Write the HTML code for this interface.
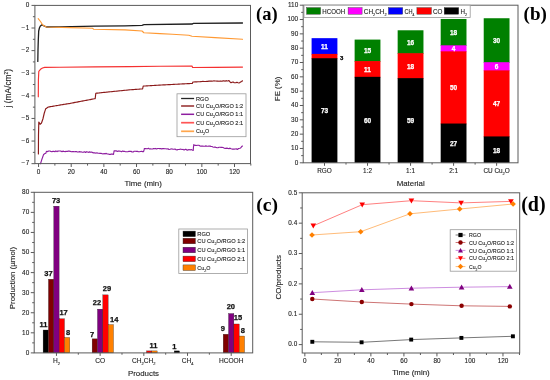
<!DOCTYPE html>
<html><head><meta charset="utf-8"><title>Figure</title>
<style>
html,body{margin:0;padding:0;background:#fff;}
body{width:550px;height:380px;overflow:hidden;}
svg{display:block;filter:blur(0.3px);}
text.n{stroke:#2a2a2a;stroke-width:0.12px;}
</style></head>
<body>
<svg width="550" height="380" viewBox="0 0 550 380">
<rect width="550" height="380" fill="#fff"/>
<polyline points="37.80,61.40 38.00,50.00 38.30,40.00 38.70,31.00 39.40,28.00 40.20,26.20 41.80,24.80 43.50,25.60 46.40,27.00 60.00,26.80 95.00,26.20 125.00,25.80 142.00,25.30 144.00,24.70 192.40,24.00 193.20,23.40 242.50,23.00" fill="none" stroke="#1e1e1e" stroke-width="1.3" stroke-linejoin="round" stroke-linecap="round" />
<polyline points="38.20,18.60 40.50,21.50 42.70,25.00 46.40,27.00 70.00,27.60 92.70,28.30 93.50,29.20 125.00,29.90 142.00,31.00 143.90,32.70 160.00,33.60 172.30,34.30 188.80,35.20 192.00,36.30 215.00,37.60 242.50,39.30" fill="none" stroke="#ff9933" stroke-width="1.15" stroke-linejoin="round" stroke-linecap="round" />
<polyline points="38.30,96.80 38.40,80.00 38.80,71.40 40.50,69.30 42.50,68.00 44.70,67.40 60.00,67.30 95.00,66.90 130.00,66.60 160.00,66.30 192.00,66.00 192.60,67.50 215.00,67.40 242.50,67.10" fill="none" stroke="#f53030" stroke-width="1.15" stroke-linejoin="round" stroke-linecap="round" />
<polyline points="38.40,154.00 38.41,153.00 38.41,152.00 38.42,151.00 38.42,150.00 38.43,149.00 38.43,148.00 38.44,147.00 38.44,146.00 38.45,145.00 38.45,144.00 38.46,143.00 38.46,142.00 38.47,141.00 38.47,140.00 38.48,139.00 38.48,138.00 38.49,137.00 38.49,136.00 38.50,135.00 38.52,134.00 38.55,133.00 38.57,132.00 38.59,131.00 38.62,130.00 38.64,129.00 38.66,128.00 38.68,127.00 38.71,126.00 38.73,125.00 38.75,124.00 38.78,123.00 38.80,122.00 39.45,123.15 40.10,124.30 41.50,123.00 41.85,122.00 42.20,121.00 42.55,120.00 42.90,119.00 43.13,118.00 43.37,117.00 43.60,116.00 43.83,115.00 44.07,114.00 44.30,113.00 44.65,111.95 45.00,110.90 45.35,109.85 45.70,108.80 46.60,108.20 47.50,107.60 48.40,107.00 49.43,106.83 50.46,106.66 51.49,106.49 52.51,106.31 53.54,106.14 54.57,105.97 55.60,105.80 56.63,105.63 57.66,105.46 58.69,105.29 59.71,105.11 60.74,104.94 61.77,104.77 62.80,104.60 63.83,104.43 64.86,104.26 65.89,104.09 66.91,103.91 67.94,103.74 68.97,103.57 70.00,103.40 71.01,103.21 72.02,103.02 73.02,102.82 74.03,102.63 75.04,102.44 76.05,102.25 77.06,102.06 78.06,101.86 79.07,101.67 80.08,101.48 81.09,101.29 82.10,101.10 83.10,100.90 84.11,100.71 85.12,100.52 86.13,100.33 87.14,100.14 88.14,99.94 89.15,99.75 90.16,99.56 91.17,99.37 92.18,99.18 93.18,98.98 94.19,98.79 95.20,98.60 95.32,97.54 95.44,96.48 95.56,95.42 95.68,94.36 95.80,93.30 96.81,93.19 97.83,93.09 98.84,92.98 99.86,92.87 100.87,92.76 101.89,92.66 102.90,92.55 103.91,92.44 104.93,92.34 105.94,92.23 106.96,92.12 107.97,92.01 108.99,91.91 110.00,91.80 111.00,91.70 112.00,91.60 113.00,91.50 114.00,91.40 115.00,91.30 116.00,91.20 117.00,91.10 118.00,91.00 119.00,90.90 120.00,90.80 121.00,90.70 122.00,90.60 123.00,90.50 124.00,90.40 125.00,90.30 126.00,90.20 127.00,90.10 128.00,90.00 129.00,89.90 130.00,89.80 131.05,89.72 132.10,89.65 133.15,89.58 134.20,89.50 135.25,89.42 136.30,89.35 137.35,89.28 138.40,89.20 139.45,89.12 140.50,89.05 141.55,88.98 142.60,88.90 142.90,87.50 143.20,86.10 144.25,86.04 145.30,85.97 146.35,85.91 147.40,85.85 148.45,85.79 149.50,85.72 150.55,85.66 151.60,85.60 152.65,85.54 153.70,85.47 154.75,85.41 155.80,85.35 156.85,85.29 157.90,85.22 158.95,85.16 160.00,85.10 161.01,85.05 162.02,84.99 163.03,84.94 164.04,84.89 165.05,84.83 166.06,84.78 167.07,84.73 168.07,84.67 169.08,84.62 170.09,84.57 171.10,84.52 172.11,84.46 173.12,84.41 174.13,84.36 175.14,84.30 176.15,84.25 177.16,84.20 178.17,84.14 179.18,84.09 180.19,84.04 181.20,83.98 182.21,83.93 183.22,83.88 184.23,83.83 185.23,83.77 186.24,83.72 187.25,83.67 188.26,83.61 189.27,83.56 190.28,83.51 191.29,83.45 192.30,83.40 192.90,82.00 193.91,81.96 194.91,81.92 195.92,81.88 196.92,81.84 197.93,81.79 198.94,81.75 199.94,81.71 200.95,81.56 201.95,81.54 202.96,81.29 203.96,81.48 204.97,81.49 205.98,81.47 206.98,81.24 207.99,81.39 208.99,81.04 210.00,81.16 211.00,81.03 212.00,81.19 213.00,80.95 214.00,80.91 215.00,81.05 216.00,80.98 217.00,81.17 218.00,81.11 219.00,81.21 220.00,81.13 221.00,81.14 222.00,81.21 223.00,80.89 224.00,80.83 225.00,81.20 226.00,80.67 227.00,80.99 228.00,80.91 229.00,80.53 230.00,81.85 231.00,82.74 232.00,82.23 233.00,81.94 234.00,82.59 235.00,82.78 236.00,82.66 237.00,82.30 238.00,82.75 239.00,82.98 239.88,82.50 240.75,81.85 241.62,81.54 242.50,80.80" fill="none" stroke="#8b1a1a" stroke-width="1.15" stroke-linejoin="round" stroke-linecap="round" />
<polyline points="40.50,163.70 40.88,162.52 41.25,161.35 41.62,160.18 42.00,159.00 42.40,157.88 42.80,156.75 43.20,155.62 43.60,154.50 45.00,153.60 45.80,153.20 46.25,151.88 46.70,151.23 47.72,151.59 48.75,150.96 49.77,151.05 50.79,151.41 51.82,151.70 52.84,151.37 53.86,151.21 54.88,151.73 55.91,150.89 56.93,151.62 57.95,151.11 58.98,150.98 60.00,150.96 61.02,151.16 62.04,151.64 63.06,151.10 64.09,151.49 65.11,151.57 66.13,151.36 67.15,151.54 68.17,151.14 69.19,151.16 70.21,151.32 71.24,151.78 72.26,151.58 73.28,151.50 74.30,151.78 75.32,151.69 76.34,151.58 77.36,152.05 78.39,151.99 79.41,151.61 80.43,151.94 81.45,151.92 82.47,152.27 83.49,152.16 84.51,151.79 85.54,152.45 86.56,151.70 87.58,152.00 88.60,152.33 89.64,151.90 90.67,152.31 91.71,152.01 92.75,152.69 93.78,152.88 94.82,152.82 95.85,153.20 96.89,152.81 97.93,153.26 98.96,153.28 100.00,153.37 101.04,153.34 102.08,153.76 103.12,153.93 104.15,153.58 105.19,153.83 106.23,153.37 107.27,154.02 108.31,154.05 109.35,154.44 110.38,154.36 111.42,153.95 112.46,154.12 113.50,154.45 113.70,152.84 113.90,152.20 114.10,150.90 115.16,150.88 116.22,150.84 117.28,151.50 118.34,150.95 119.40,151.07 120.46,151.22 121.52,151.67 122.58,150.98 123.64,151.33 124.70,151.44 125.76,151.77 126.82,151.73 127.88,151.79 128.94,151.28 130.00,151.42 131.05,151.39 132.09,151.88 133.14,151.96 134.18,151.25 135.23,151.29 136.28,151.35 137.32,151.37 138.37,151.61 139.42,151.72 140.46,151.44 141.51,151.22 142.55,151.61 143.60,151.58 143.83,150.69 144.07,149.97 144.30,148.67 145.33,148.54 146.36,148.66 147.38,148.74 148.41,148.21 149.44,149.00 150.47,148.92 151.50,149.03 152.52,148.99 153.55,148.66 154.58,148.69 155.61,148.45 156.64,148.96 157.66,148.47 158.69,148.50 159.72,148.66 160.75,148.64 161.78,148.83 162.80,148.60 163.83,148.58 164.86,148.75 165.89,148.73 166.92,148.99 167.94,148.72 168.97,149.51 170.00,149.30 171.01,148.92 172.02,149.05 173.03,149.17 174.03,149.22 175.04,149.03 176.05,149.72 177.06,149.89 178.07,149.45 179.08,149.50 180.09,149.18 181.10,149.22 182.10,149.48 183.11,149.44 184.12,149.98 185.13,149.42 186.14,149.33 187.15,150.20 188.16,149.85 189.17,149.54 190.17,149.93 191.18,149.50 192.19,149.99 193.20,150.43 193.30,149.33 193.40,148.18 193.50,146.79 193.60,145.88 193.70,144.70 194.71,145.34 195.73,145.22 196.74,145.54 197.76,145.23 198.77,145.23 199.79,145.85 200.80,146.10 201.81,146.08 202.83,146.13 203.84,146.24 204.86,146.26 205.87,145.90 206.89,146.25 207.90,146.20 208.91,146.00 209.93,146.10 210.94,146.42 211.96,146.50 212.97,146.98 213.99,147.32 215.00,146.95 216.00,147.49 217.00,147.64 218.00,147.71 219.00,147.28 220.00,147.25 221.00,147.35 222.00,147.43 223.00,147.53 224.00,148.01 225.00,148.36 226.00,148.41 227.00,148.18 228.00,148.44 229.00,148.67 230.00,148.13 231.04,148.74 232.09,149.07 233.13,149.05 234.17,149.13 235.21,148.98 236.26,148.81 237.30,149.46 238.65,148.45 240.00,148.27 240.83,147.76 241.67,146.57 242.50,146.00" fill="none" stroke="#8e1ea0" stroke-width="1.15" stroke-linejoin="round" stroke-linecap="round" />
<rect x="34.90" y="5.40" width="215.60" height="158.20" fill="none" stroke="#5a5a5a" stroke-width="1.0"/>
<line x1="31.50" y1="5.40" x2="34.90" y2="5.40" stroke="#5a5a5a" stroke-width="1.0" />
<text class="n" x="29.40" y="7.20" font-size="6.4" text-anchor="end" fill="#222" font-family='"Liberation Sans", sans-serif' font-weight="normal" >0</text>
<line x1="31.50" y1="28.01" x2="34.90" y2="28.01" stroke="#5a5a5a" stroke-width="1.0" />
<text class="n" x="29.40" y="29.81" font-size="6.4" text-anchor="end" fill="#222" font-family='"Liberation Sans", sans-serif' font-weight="normal" >&#8722;<tspan dx="0.7">1</tspan></text>
<line x1="31.50" y1="50.62" x2="34.90" y2="50.62" stroke="#5a5a5a" stroke-width="1.0" />
<text class="n" x="29.40" y="52.42" font-size="6.4" text-anchor="end" fill="#222" font-family='"Liberation Sans", sans-serif' font-weight="normal" >&#8722;<tspan dx="0.7">2</tspan></text>
<line x1="31.50" y1="73.23" x2="34.90" y2="73.23" stroke="#5a5a5a" stroke-width="1.0" />
<text class="n" x="29.40" y="75.03" font-size="6.4" text-anchor="end" fill="#222" font-family='"Liberation Sans", sans-serif' font-weight="normal" >&#8722;<tspan dx="0.7">3</tspan></text>
<line x1="31.50" y1="95.84" x2="34.90" y2="95.84" stroke="#5a5a5a" stroke-width="1.0" />
<text class="n" x="29.40" y="97.64" font-size="6.4" text-anchor="end" fill="#222" font-family='"Liberation Sans", sans-serif' font-weight="normal" >&#8722;<tspan dx="0.7">4</tspan></text>
<line x1="31.50" y1="118.45" x2="34.90" y2="118.45" stroke="#5a5a5a" stroke-width="1.0" />
<text class="n" x="29.40" y="120.25" font-size="6.4" text-anchor="end" fill="#222" font-family='"Liberation Sans", sans-serif' font-weight="normal" >&#8722;<tspan dx="0.7">5</tspan></text>
<line x1="31.50" y1="141.06" x2="34.90" y2="141.06" stroke="#5a5a5a" stroke-width="1.0" />
<text class="n" x="29.40" y="142.86" font-size="6.4" text-anchor="end" fill="#222" font-family='"Liberation Sans", sans-serif' font-weight="normal" >&#8722;<tspan dx="0.7">6</tspan></text>
<line x1="31.50" y1="163.67" x2="34.90" y2="163.67" stroke="#5a5a5a" stroke-width="1.0" />
<text class="n" x="29.40" y="165.47" font-size="6.4" text-anchor="end" fill="#222" font-family='"Liberation Sans", sans-serif' font-weight="normal" >&#8722;<tspan dx="0.7">7</tspan></text>
<line x1="32.90" y1="16.70" x2="34.90" y2="16.70" stroke="#5a5a5a" stroke-width="1.0" />
<line x1="32.90" y1="39.31" x2="34.90" y2="39.31" stroke="#5a5a5a" stroke-width="1.0" />
<line x1="32.90" y1="61.92" x2="34.90" y2="61.92" stroke="#5a5a5a" stroke-width="1.0" />
<line x1="32.90" y1="84.53" x2="34.90" y2="84.53" stroke="#5a5a5a" stroke-width="1.0" />
<line x1="32.90" y1="107.15" x2="34.90" y2="107.15" stroke="#5a5a5a" stroke-width="1.0" />
<line x1="32.90" y1="129.75" x2="34.90" y2="129.75" stroke="#5a5a5a" stroke-width="1.0" />
<line x1="32.90" y1="152.37" x2="34.90" y2="152.37" stroke="#5a5a5a" stroke-width="1.0" />
<line x1="38.55" y1="163.60" x2="38.55" y2="167.00" stroke="#5a5a5a" stroke-width="1.0" />
<text class="n" x="38.55" y="173.60" font-size="6.4" text-anchor="middle" fill="#222" font-family='"Liberation Sans", sans-serif' font-weight="normal" >0</text>
<line x1="71.21" y1="163.60" x2="71.21" y2="167.00" stroke="#5a5a5a" stroke-width="1.0" />
<text class="n" x="71.21" y="173.60" font-size="6.4" text-anchor="middle" fill="#222" font-family='"Liberation Sans", sans-serif' font-weight="normal" >20</text>
<line x1="103.87" y1="163.60" x2="103.87" y2="167.00" stroke="#5a5a5a" stroke-width="1.0" />
<text class="n" x="103.87" y="173.60" font-size="6.4" text-anchor="middle" fill="#222" font-family='"Liberation Sans", sans-serif' font-weight="normal" >40</text>
<line x1="136.53" y1="163.60" x2="136.53" y2="167.00" stroke="#5a5a5a" stroke-width="1.0" />
<text class="n" x="136.53" y="173.60" font-size="6.4" text-anchor="middle" fill="#222" font-family='"Liberation Sans", sans-serif' font-weight="normal" >60</text>
<line x1="169.19" y1="163.60" x2="169.19" y2="167.00" stroke="#5a5a5a" stroke-width="1.0" />
<text class="n" x="169.19" y="173.60" font-size="6.4" text-anchor="middle" fill="#222" font-family='"Liberation Sans", sans-serif' font-weight="normal" >80</text>
<line x1="201.85" y1="163.60" x2="201.85" y2="167.00" stroke="#5a5a5a" stroke-width="1.0" />
<text class="n" x="201.85" y="173.60" font-size="6.4" text-anchor="middle" fill="#222" font-family='"Liberation Sans", sans-serif' font-weight="normal" >100</text>
<line x1="234.51" y1="163.60" x2="234.51" y2="167.00" stroke="#5a5a5a" stroke-width="1.0" />
<text class="n" x="234.51" y="173.60" font-size="6.4" text-anchor="middle" fill="#222" font-family='"Liberation Sans", sans-serif' font-weight="normal" >120</text>
<line x1="54.88" y1="163.60" x2="54.88" y2="165.60" stroke="#5a5a5a" stroke-width="1.0" />
<line x1="87.54" y1="163.60" x2="87.54" y2="165.60" stroke="#5a5a5a" stroke-width="1.0" />
<line x1="120.20" y1="163.60" x2="120.20" y2="165.60" stroke="#5a5a5a" stroke-width="1.0" />
<line x1="152.86" y1="163.60" x2="152.86" y2="165.60" stroke="#5a5a5a" stroke-width="1.0" />
<line x1="185.52" y1="163.60" x2="185.52" y2="165.60" stroke="#5a5a5a" stroke-width="1.0" />
<line x1="218.18" y1="163.60" x2="218.18" y2="165.60" stroke="#5a5a5a" stroke-width="1.0" />
<line x1="250.84" y1="163.60" x2="250.84" y2="165.60" stroke="#5a5a5a" stroke-width="1.0" />
<text class="n" x="143.20" y="186.40" font-size="7.9" text-anchor="middle" fill="#222" font-family='"Liberation Sans", sans-serif' font-weight="normal" >Time (min)</text>
<text class="n" x="0.00" y="0.00" font-size="8.4" text-anchor="middle" fill="#222" font-family='"Liberation Sans", sans-serif' font-weight="normal" transform="translate(10.5,88.2) rotate(-90)">j (mA/cm<tspan font-size="4.8" dy="-2.8">2</tspan><tspan dy="2.8">)</tspan></text>
<rect x="177.00" y="93.80" width="69.00" height="42.90" fill="#fff" stroke="#9a9a9a" stroke-width="0.8" />
<line x1="181.10" y1="98.50" x2="194.10" y2="98.50" stroke="#262626" stroke-width="1.3" />
<text class="n" x="196.10" y="100.50" font-size="5.8" text-anchor="start" fill="#222" font-family='"Liberation Sans", sans-serif' font-weight="normal"  textLength="12.6" lengthAdjust="spacingAndGlyphs">RGO</text>
<line x1="181.10" y1="106.00" x2="194.10" y2="106.00" stroke="#8b1a1a" stroke-width="1.4" />
<text class="n" x="196.10" y="108.00" font-size="5.8" text-anchor="start" fill="#222" font-family='"Liberation Sans", sans-serif' font-weight="normal"  textLength="47.0" lengthAdjust="spacingAndGlyphs">CU Cu<tspan font-size="4.0" dy="2.0">2</tspan><tspan dy="-2.0">O/RGO 1:2</tspan></text>
<line x1="181.10" y1="114.30" x2="194.10" y2="114.30" stroke="#8e1ea0" stroke-width="1.5" />
<text class="n" x="196.10" y="116.30" font-size="5.8" text-anchor="start" fill="#222" font-family='"Liberation Sans", sans-serif' font-weight="normal"  textLength="47.0" lengthAdjust="spacingAndGlyphs">CU Cu<tspan font-size="4.0" dy="2.0">2</tspan><tspan dy="-2.0">O/RGO 1:1</tspan></text>
<line x1="181.10" y1="122.70" x2="194.10" y2="122.70" stroke="#ff5555" stroke-width="1.7" />
<text class="n" x="196.10" y="124.70" font-size="5.8" text-anchor="start" fill="#222" font-family='"Liberation Sans", sans-serif' font-weight="normal"  textLength="47.0" lengthAdjust="spacingAndGlyphs">CU Cu<tspan font-size="4.0" dy="2.0">2</tspan><tspan dy="-2.0">O/RGO 2:1</tspan></text>
<line x1="181.10" y1="131.30" x2="194.10" y2="131.30" stroke="#ffa64d" stroke-width="1.7" />
<text class="n" x="196.10" y="133.30" font-size="5.8" text-anchor="start" fill="#222" font-family='"Liberation Sans", sans-serif' font-weight="normal"  textLength="13.2" lengthAdjust="spacingAndGlyphs">Cu<tspan font-size="4.0" dy="2.0">2</tspan><tspan dy="-2.0">O</tspan></text>
<text x="256.00" y="19.50" font-size="18.5" text-anchor="start" fill="#000" font-family='"Liberation Serif", serif' font-weight="bold" >(a)</text>
<rect x="311.60" y="38.16" width="25.80" height="16.46" fill="#0000ff" stroke="none" stroke-width="0" />
<rect x="311.60" y="53.91" width="25.80" height="5.00" fill="#ff0000" stroke="none" stroke-width="0" />
<rect x="311.60" y="58.21" width="25.80" height="104.59" fill="#000000" stroke="none" stroke-width="0" />
<text x="324.50" y="113.41" font-size="6.5" text-anchor="middle" fill="#fff" font-family='"Liberation Sans", sans-serif' font-weight="bold"  stroke="#fff" stroke-width="0.25">73</text>
<text x="324.50" y="48.93" font-size="6.5" text-anchor="middle" fill="#fff" font-family='"Liberation Sans", sans-serif' font-weight="bold"  stroke="#fff" stroke-width="0.25">11</text>
<rect x="354.63" y="39.59" width="25.80" height="22.19" fill="#008000" stroke="none" stroke-width="0" />
<rect x="354.63" y="61.08" width="25.80" height="16.46" fill="#ff0000" stroke="none" stroke-width="0" />
<rect x="354.63" y="76.84" width="25.80" height="85.96" fill="#000000" stroke="none" stroke-width="0" />
<text x="367.53" y="122.72" font-size="6.5" text-anchor="middle" fill="#fff" font-family='"Liberation Sans", sans-serif' font-weight="bold"  stroke="#fff" stroke-width="0.25">60</text>
<text x="367.53" y="71.86" font-size="6.5" text-anchor="middle" fill="#fff" font-family='"Liberation Sans", sans-serif' font-weight="bold"  stroke="#fff" stroke-width="0.25">11</text>
<text x="367.53" y="53.23" font-size="6.5" text-anchor="middle" fill="#fff" font-family='"Liberation Sans", sans-serif' font-weight="bold"  stroke="#fff" stroke-width="0.25">15</text>
<rect x="397.66" y="30.28" width="25.80" height="23.62" fill="#008000" stroke="none" stroke-width="0" />
<rect x="397.66" y="53.20" width="25.80" height="25.63" fill="#ff0000" stroke="none" stroke-width="0" />
<rect x="397.66" y="78.13" width="25.80" height="84.67" fill="#000000" stroke="none" stroke-width="0" />
<text x="410.56" y="123.36" font-size="6.5" text-anchor="middle" fill="#fff" font-family='"Liberation Sans", sans-serif' font-weight="bold"  stroke="#fff" stroke-width="0.25">59</text>
<text x="410.56" y="68.56" font-size="6.5" text-anchor="middle" fill="#fff" font-family='"Liberation Sans", sans-serif' font-weight="bold"  stroke="#fff" stroke-width="0.25">18</text>
<text x="410.56" y="44.64" font-size="6.5" text-anchor="middle" fill="#fff" font-family='"Liberation Sans", sans-serif' font-weight="bold"  stroke="#fff" stroke-width="0.25">16</text>
<rect x="440.69" y="18.96" width="25.80" height="27.06" fill="#008000" stroke="none" stroke-width="0" />
<rect x="440.69" y="45.32" width="25.80" height="6.72" fill="#ff00ff" stroke="none" stroke-width="0" />
<rect x="440.69" y="51.34" width="25.80" height="72.91" fill="#ff0000" stroke="none" stroke-width="0" />
<rect x="440.69" y="123.54" width="25.80" height="39.26" fill="#000000" stroke="none" stroke-width="0" />
<text x="453.59" y="146.07" font-size="6.5" text-anchor="middle" fill="#fff" font-family='"Liberation Sans", sans-serif' font-weight="bold"  stroke="#fff" stroke-width="0.25">27</text>
<text x="453.59" y="90.34" font-size="6.5" text-anchor="middle" fill="#fff" font-family='"Liberation Sans", sans-serif' font-weight="bold"  stroke="#fff" stroke-width="0.25">50</text>
<text x="453.59" y="51.23" font-size="6.5" text-anchor="middle" fill="#fff" font-family='"Liberation Sans", sans-serif' font-weight="bold"  stroke="#fff" stroke-width="0.25">4</text>
<text x="453.59" y="35.04" font-size="6.5" text-anchor="middle" fill="#fff" font-family='"Liberation Sans", sans-serif' font-weight="bold"  stroke="#fff" stroke-width="0.25">18</text>
<rect x="483.72" y="18.24" width="25.80" height="44.68" fill="#008000" stroke="none" stroke-width="0" />
<rect x="483.72" y="62.22" width="25.80" height="8.87" fill="#ff00ff" stroke="none" stroke-width="0" />
<rect x="483.72" y="70.39" width="25.80" height="66.75" fill="#ff0000" stroke="none" stroke-width="0" />
<rect x="483.72" y="136.44" width="25.80" height="26.36" fill="#000000" stroke="none" stroke-width="0" />
<text x="496.62" y="152.52" font-size="6.5" text-anchor="middle" fill="#fff" font-family='"Liberation Sans", sans-serif' font-weight="bold"  stroke="#fff" stroke-width="0.25">18</text>
<text x="496.62" y="106.31" font-size="6.5" text-anchor="middle" fill="#fff" font-family='"Liberation Sans", sans-serif' font-weight="bold"  stroke="#fff" stroke-width="0.25">47</text>
<text x="496.62" y="69.21" font-size="6.5" text-anchor="middle" fill="#fff" font-family='"Liberation Sans", sans-serif' font-weight="bold"  stroke="#fff" stroke-width="0.25">6</text>
<text x="496.62" y="43.13" font-size="6.5" text-anchor="middle" fill="#fff" font-family='"Liberation Sans", sans-serif' font-weight="bold"  stroke="#fff" stroke-width="0.25">30</text>
<text x="339.90" y="59.60" font-size="6.0" text-anchor="start" fill="#000" font-family='"Liberation Sans", sans-serif' font-weight="bold"  stroke="#000" stroke-width="0.25">3</text>
<rect x="303.20" y="5.20" width="214.80" height="157.60" fill="none" stroke="#5a5a5a" stroke-width="1.0"/>
<line x1="299.80" y1="162.80" x2="303.20" y2="162.80" stroke="#5a5a5a" stroke-width="1.0" />
<text class="n" x="298.20" y="164.70" font-size="6.4" text-anchor="end" fill="#222" font-family='"Liberation Sans", sans-serif' font-weight="normal" >0</text>
<line x1="299.80" y1="148.47" x2="303.20" y2="148.47" stroke="#5a5a5a" stroke-width="1.0" />
<text class="n" x="298.20" y="150.37" font-size="6.4" text-anchor="end" fill="#222" font-family='"Liberation Sans", sans-serif' font-weight="normal" >10</text>
<line x1="299.80" y1="134.15" x2="303.20" y2="134.15" stroke="#5a5a5a" stroke-width="1.0" />
<text class="n" x="298.20" y="136.05" font-size="6.4" text-anchor="end" fill="#222" font-family='"Liberation Sans", sans-serif' font-weight="normal" >20</text>
<line x1="299.80" y1="119.82" x2="303.20" y2="119.82" stroke="#5a5a5a" stroke-width="1.0" />
<text class="n" x="298.20" y="121.72" font-size="6.4" text-anchor="end" fill="#222" font-family='"Liberation Sans", sans-serif' font-weight="normal" >30</text>
<line x1="299.80" y1="105.49" x2="303.20" y2="105.49" stroke="#5a5a5a" stroke-width="1.0" />
<text class="n" x="298.20" y="107.39" font-size="6.4" text-anchor="end" fill="#222" font-family='"Liberation Sans", sans-serif' font-weight="normal" >40</text>
<line x1="299.80" y1="91.17" x2="303.20" y2="91.17" stroke="#5a5a5a" stroke-width="1.0" />
<text class="n" x="298.20" y="93.07" font-size="6.4" text-anchor="end" fill="#222" font-family='"Liberation Sans", sans-serif' font-weight="normal" >50</text>
<line x1="299.80" y1="76.84" x2="303.20" y2="76.84" stroke="#5a5a5a" stroke-width="1.0" />
<text class="n" x="298.20" y="78.74" font-size="6.4" text-anchor="end" fill="#222" font-family='"Liberation Sans", sans-serif' font-weight="normal" >60</text>
<line x1="299.80" y1="62.51" x2="303.20" y2="62.51" stroke="#5a5a5a" stroke-width="1.0" />
<text class="n" x="298.20" y="64.41" font-size="6.4" text-anchor="end" fill="#222" font-family='"Liberation Sans", sans-serif' font-weight="normal" >70</text>
<line x1="299.80" y1="48.18" x2="303.20" y2="48.18" stroke="#5a5a5a" stroke-width="1.0" />
<text class="n" x="298.20" y="50.08" font-size="6.4" text-anchor="end" fill="#222" font-family='"Liberation Sans", sans-serif' font-weight="normal" >80</text>
<line x1="299.80" y1="33.86" x2="303.20" y2="33.86" stroke="#5a5a5a" stroke-width="1.0" />
<text class="n" x="298.20" y="35.76" font-size="6.4" text-anchor="end" fill="#222" font-family='"Liberation Sans", sans-serif' font-weight="normal" >90</text>
<line x1="299.80" y1="19.53" x2="303.20" y2="19.53" stroke="#5a5a5a" stroke-width="1.0" />
<text class="n" x="298.20" y="21.43" font-size="6.4" text-anchor="end" fill="#222" font-family='"Liberation Sans", sans-serif' font-weight="normal" >100</text>
<line x1="299.80" y1="5.20" x2="303.20" y2="5.20" stroke="#5a5a5a" stroke-width="1.0" />
<text class="n" x="298.20" y="7.10" font-size="6.4" text-anchor="end" fill="#222" font-family='"Liberation Sans", sans-serif' font-weight="normal" >110</text>
<line x1="301.20" y1="155.64" x2="303.20" y2="155.64" stroke="#5a5a5a" stroke-width="1.0" />
<line x1="301.20" y1="141.31" x2="303.20" y2="141.31" stroke="#5a5a5a" stroke-width="1.0" />
<line x1="301.20" y1="126.98" x2="303.20" y2="126.98" stroke="#5a5a5a" stroke-width="1.0" />
<line x1="301.20" y1="112.66" x2="303.20" y2="112.66" stroke="#5a5a5a" stroke-width="1.0" />
<line x1="301.20" y1="98.33" x2="303.20" y2="98.33" stroke="#5a5a5a" stroke-width="1.0" />
<line x1="301.20" y1="84.00" x2="303.20" y2="84.00" stroke="#5a5a5a" stroke-width="1.0" />
<line x1="301.20" y1="69.67" x2="303.20" y2="69.67" stroke="#5a5a5a" stroke-width="1.0" />
<line x1="301.20" y1="55.35" x2="303.20" y2="55.35" stroke="#5a5a5a" stroke-width="1.0" />
<line x1="301.20" y1="41.02" x2="303.20" y2="41.02" stroke="#5a5a5a" stroke-width="1.0" />
<line x1="301.20" y1="26.69" x2="303.20" y2="26.69" stroke="#5a5a5a" stroke-width="1.0" />
<line x1="301.20" y1="12.37" x2="303.20" y2="12.37" stroke="#5a5a5a" stroke-width="1.0" />
<line x1="324.50" y1="162.80" x2="324.50" y2="165.80" stroke="#5a5a5a" stroke-width="1.0" />
<text class="n" x="324.50" y="173.10" font-size="6.4" text-anchor="middle" fill="#222" font-family='"Liberation Sans", sans-serif' font-weight="normal" >RGO</text>
<line x1="367.53" y1="162.80" x2="367.53" y2="165.80" stroke="#5a5a5a" stroke-width="1.0" />
<text class="n" x="367.53" y="173.10" font-size="6.4" text-anchor="middle" fill="#222" font-family='"Liberation Sans", sans-serif' font-weight="normal" >1:2</text>
<line x1="410.56" y1="162.80" x2="410.56" y2="165.80" stroke="#5a5a5a" stroke-width="1.0" />
<text class="n" x="410.56" y="173.10" font-size="6.4" text-anchor="middle" fill="#222" font-family='"Liberation Sans", sans-serif' font-weight="normal" >1:1</text>
<line x1="453.59" y1="162.80" x2="453.59" y2="165.80" stroke="#5a5a5a" stroke-width="1.0" />
<text class="n" x="453.59" y="173.10" font-size="6.4" text-anchor="middle" fill="#222" font-family='"Liberation Sans", sans-serif' font-weight="normal" >2:1</text>
<line x1="496.62" y1="162.80" x2="496.62" y2="165.80" stroke="#5a5a5a" stroke-width="1.0" />
<text class="n" x="496.62" y="173.10" font-size="6.4" text-anchor="middle" fill="#222" font-family='"Liberation Sans", sans-serif' font-weight="normal" >CU Cu<tspan font-size="4.0" dy="2.0">2</tspan><tspan dy="-2.0">O</tspan></text>
<line x1="346.01" y1="162.80" x2="346.01" y2="164.60" stroke="#5a5a5a" stroke-width="1.0" />
<line x1="389.04" y1="162.80" x2="389.04" y2="164.60" stroke="#5a5a5a" stroke-width="1.0" />
<line x1="432.08" y1="162.80" x2="432.08" y2="164.60" stroke="#5a5a5a" stroke-width="1.0" />
<line x1="475.11" y1="162.80" x2="475.11" y2="164.60" stroke="#5a5a5a" stroke-width="1.0" />
<text class="n" x="410.70" y="185.50" font-size="7.9" text-anchor="middle" fill="#222" font-family='"Liberation Sans", sans-serif' font-weight="normal" >Material</text>
<text class="n" x="0.00" y="0.00" font-size="7.9" text-anchor="middle" fill="#222" font-family='"Liberation Sans", sans-serif' font-weight="normal" transform="translate(280.2,88.9) rotate(-90)">FE (%)</text>
<rect x="304.00" y="5.20" width="166.20" height="12.30" fill="#fff" stroke="#9a9a9a" stroke-width="0.8" />
<rect x="306.60" y="7.60" width="14.00" height="6.60" fill="#008000" stroke="#333" stroke-width="0.4" />
<text class="n" x="322.30" y="13.50" font-size="6.7" text-anchor="start" fill="#222" font-family='"Liberation Sans", sans-serif' font-weight="normal"  textLength="22.8" lengthAdjust="spacingAndGlyphs">HCOOH</text>
<rect x="348.10" y="7.60" width="14.00" height="6.60" fill="#ff00ff" stroke="#333" stroke-width="0.4" />
<text class="n" x="363.80" y="13.50" font-size="6.7" text-anchor="start" fill="#222" font-family='"Liberation Sans", sans-serif' font-weight="normal"  textLength="22.8" lengthAdjust="spacingAndGlyphs">CH<tspan font-size="4.0" dy="2.0">2</tspan><tspan dy="-2.0">CH<tspan font-size="4.0" dy="2.0">2</tspan><tspan dy="-2.0"></tspan></tspan></text>
<rect x="388.40" y="7.60" width="14.30" height="6.60" fill="#0000ff" stroke="#333" stroke-width="0.4" />
<text class="n" x="404.40" y="13.50" font-size="6.7" text-anchor="start" fill="#222" font-family='"Liberation Sans", sans-serif' font-weight="normal"  textLength="10.0" lengthAdjust="spacingAndGlyphs">CH<tspan font-size="4.0" dy="2.0">4</tspan><tspan dy="-2.0"></tspan></text>
<rect x="416.90" y="7.60" width="14.50" height="6.60" fill="#ff0000" stroke="#333" stroke-width="0.4" />
<text class="n" x="433.10" y="13.50" font-size="6.7" text-anchor="start" fill="#222" font-family='"Liberation Sans", sans-serif' font-weight="normal"  textLength="9.4" lengthAdjust="spacingAndGlyphs">CO</text>
<rect x="444.20" y="7.60" width="14.50" height="6.60" fill="#000000" stroke="#333" stroke-width="0.4" />
<text class="n" x="460.40" y="13.50" font-size="6.7" text-anchor="start" fill="#222" font-family='"Liberation Sans", sans-serif' font-weight="normal"  textLength="6.6" lengthAdjust="spacingAndGlyphs">H<tspan font-size="4.0" dy="2.0">2</tspan><tspan dy="-2.0"></tspan></text>
<text x="523.60" y="20.30" font-size="19" text-anchor="start" fill="#000" font-family='"Liberation Serif", serif' font-weight="bold" >(b)</text>
<rect x="43.10" y="330.01" width="5.34" height="22.89" fill="#000000" stroke="#222" stroke-width="0.3" />
<rect x="48.44" y="279.22" width="5.34" height="73.68" fill="#800000" stroke="#222" stroke-width="0.3" />
<rect x="53.78" y="206.15" width="5.34" height="146.75" fill="#800080" stroke="#222" stroke-width="0.3" />
<rect x="59.12" y="318.77" width="5.34" height="34.13" fill="#ff0000" stroke="#222" stroke-width="0.3" />
<rect x="64.46" y="337.44" width="5.34" height="15.46" fill="#ff8000" stroke="#222" stroke-width="0.3" />
<rect x="92.13" y="338.85" width="5.34" height="14.05" fill="#800000" stroke="#222" stroke-width="0.3" />
<rect x="97.47" y="309.14" width="5.34" height="43.76" fill="#800080" stroke="#222" stroke-width="0.3" />
<rect x="102.81" y="294.88" width="5.34" height="58.02" fill="#ff0000" stroke="#222" stroke-width="0.3" />
<rect x="108.15" y="324.59" width="5.34" height="28.31" fill="#ff8000" stroke="#222" stroke-width="0.3" />
<rect x="146.50" y="350.89" width="5.34" height="2.01" fill="#ff0000" stroke="#222" stroke-width="0.3" />
<rect x="151.84" y="350.89" width="5.34" height="2.01" fill="#ff8000" stroke="#222" stroke-width="0.3" />
<rect x="174.17" y="350.89" width="5.34" height="2.01" fill="#000000" stroke="#222" stroke-width="0.3" />
<rect x="223.20" y="334.23" width="5.34" height="18.67" fill="#800000" stroke="#222" stroke-width="0.3" />
<rect x="228.54" y="313.55" width="5.34" height="39.35" fill="#800080" stroke="#222" stroke-width="0.3" />
<rect x="233.88" y="323.99" width="5.34" height="28.91" fill="#ff0000" stroke="#222" stroke-width="0.3" />
<rect x="239.22" y="336.04" width="5.34" height="16.86" fill="#ff8000" stroke="#222" stroke-width="0.3" />
<text x="43.50" y="326.80" font-size="7.5" text-anchor="middle" fill="#111" font-family='"Liberation Sans", sans-serif' font-weight="bold"  stroke="#111" stroke-width="0.25">11</text>
<text x="48.50" y="275.90" font-size="7.5" text-anchor="middle" fill="#111" font-family='"Liberation Sans", sans-serif' font-weight="bold"  stroke="#111" stroke-width="0.25">37</text>
<text x="56.10" y="202.70" font-size="7.5" text-anchor="middle" fill="#111" font-family='"Liberation Sans", sans-serif' font-weight="bold"  stroke="#111" stroke-width="0.25">73</text>
<text x="63.60" y="314.80" font-size="7.5" text-anchor="middle" fill="#111" font-family='"Liberation Sans", sans-serif' font-weight="bold"  stroke="#111" stroke-width="0.25">17</text>
<text x="68.20" y="334.60" font-size="7.5" text-anchor="middle" fill="#111" font-family='"Liberation Sans", sans-serif' font-weight="bold"  stroke="#111" stroke-width="0.25">8</text>
<text x="92.10" y="336.60" font-size="7.5" text-anchor="middle" fill="#111" font-family='"Liberation Sans", sans-serif' font-weight="bold"  stroke="#111" stroke-width="0.25">7</text>
<text x="96.90" y="305.30" font-size="7.5" text-anchor="middle" fill="#111" font-family='"Liberation Sans", sans-serif' font-weight="bold"  stroke="#111" stroke-width="0.25">22</text>
<text x="107.00" y="291.20" font-size="7.5" text-anchor="middle" fill="#111" font-family='"Liberation Sans", sans-serif' font-weight="bold"  stroke="#111" stroke-width="0.25">29</text>
<text x="114.20" y="321.60" font-size="7.5" text-anchor="middle" fill="#111" font-family='"Liberation Sans", sans-serif' font-weight="bold"  stroke="#111" stroke-width="0.25">14</text>
<text x="153.40" y="347.50" font-size="7.5" text-anchor="middle" fill="#111" font-family='"Liberation Sans", sans-serif' font-weight="bold"  stroke="#111" stroke-width="0.25">11</text>
<text x="174.30" y="348.60" font-size="7.5" text-anchor="middle" fill="#111" font-family='"Liberation Sans", sans-serif' font-weight="bold"  stroke="#111" stroke-width="0.25">1</text>
<text x="222.90" y="331.10" font-size="7.5" text-anchor="middle" fill="#111" font-family='"Liberation Sans", sans-serif' font-weight="bold"  stroke="#111" stroke-width="0.25">9</text>
<text x="230.80" y="309.40" font-size="7.5" text-anchor="middle" fill="#111" font-family='"Liberation Sans", sans-serif' font-weight="bold"  stroke="#111" stroke-width="0.25">20</text>
<text x="238.00" y="319.70" font-size="7.5" text-anchor="middle" fill="#111" font-family='"Liberation Sans", sans-serif' font-weight="bold"  stroke="#111" stroke-width="0.25">15</text>
<text x="242.90" y="332.50" font-size="7.5" text-anchor="middle" fill="#111" font-family='"Liberation Sans", sans-serif' font-weight="bold"  stroke="#111" stroke-width="0.25">8</text>
<rect x="34.20" y="192.30" width="218.50" height="160.60" fill="none" stroke="#5a5a5a" stroke-width="1.0"/>
<line x1="30.80" y1="352.90" x2="34.20" y2="352.90" stroke="#5a5a5a" stroke-width="1.0" />
<text class="n" x="29.20" y="354.80" font-size="6.4" text-anchor="end" fill="#222" font-family='"Liberation Sans", sans-serif' font-weight="normal" >0</text>
<line x1="30.80" y1="332.82" x2="34.20" y2="332.82" stroke="#5a5a5a" stroke-width="1.0" />
<text class="n" x="29.20" y="334.72" font-size="6.4" text-anchor="end" fill="#222" font-family='"Liberation Sans", sans-serif' font-weight="normal" >10</text>
<line x1="30.80" y1="312.75" x2="34.20" y2="312.75" stroke="#5a5a5a" stroke-width="1.0" />
<text class="n" x="29.20" y="314.65" font-size="6.4" text-anchor="end" fill="#222" font-family='"Liberation Sans", sans-serif' font-weight="normal" >20</text>
<line x1="30.80" y1="292.67" x2="34.20" y2="292.67" stroke="#5a5a5a" stroke-width="1.0" />
<text class="n" x="29.20" y="294.57" font-size="6.4" text-anchor="end" fill="#222" font-family='"Liberation Sans", sans-serif' font-weight="normal" >30</text>
<line x1="30.80" y1="272.60" x2="34.20" y2="272.60" stroke="#5a5a5a" stroke-width="1.0" />
<text class="n" x="29.20" y="274.50" font-size="6.4" text-anchor="end" fill="#222" font-family='"Liberation Sans", sans-serif' font-weight="normal" >40</text>
<line x1="30.80" y1="252.52" x2="34.20" y2="252.52" stroke="#5a5a5a" stroke-width="1.0" />
<text class="n" x="29.20" y="254.42" font-size="6.4" text-anchor="end" fill="#222" font-family='"Liberation Sans", sans-serif' font-weight="normal" >50</text>
<line x1="30.80" y1="232.45" x2="34.20" y2="232.45" stroke="#5a5a5a" stroke-width="1.0" />
<text class="n" x="29.20" y="234.35" font-size="6.4" text-anchor="end" fill="#222" font-family='"Liberation Sans", sans-serif' font-weight="normal" >60</text>
<line x1="30.80" y1="212.38" x2="34.20" y2="212.38" stroke="#5a5a5a" stroke-width="1.0" />
<text class="n" x="29.20" y="214.28" font-size="6.4" text-anchor="end" fill="#222" font-family='"Liberation Sans", sans-serif' font-weight="normal" >70</text>
<line x1="30.80" y1="192.30" x2="34.20" y2="192.30" stroke="#5a5a5a" stroke-width="1.0" />
<text class="n" x="29.20" y="194.20" font-size="6.4" text-anchor="end" fill="#222" font-family='"Liberation Sans", sans-serif' font-weight="normal" >80</text>
<line x1="32.20" y1="342.86" x2="34.20" y2="342.86" stroke="#5a5a5a" stroke-width="1.0" />
<line x1="32.20" y1="322.79" x2="34.20" y2="322.79" stroke="#5a5a5a" stroke-width="1.0" />
<line x1="32.20" y1="302.71" x2="34.20" y2="302.71" stroke="#5a5a5a" stroke-width="1.0" />
<line x1="32.20" y1="282.64" x2="34.20" y2="282.64" stroke="#5a5a5a" stroke-width="1.0" />
<line x1="32.20" y1="262.56" x2="34.20" y2="262.56" stroke="#5a5a5a" stroke-width="1.0" />
<line x1="32.20" y1="242.49" x2="34.20" y2="242.49" stroke="#5a5a5a" stroke-width="1.0" />
<line x1="32.20" y1="222.41" x2="34.20" y2="222.41" stroke="#5a5a5a" stroke-width="1.0" />
<line x1="32.20" y1="202.34" x2="34.20" y2="202.34" stroke="#5a5a5a" stroke-width="1.0" />
<line x1="56.45" y1="352.90" x2="56.45" y2="355.90" stroke="#5a5a5a" stroke-width="1.0" />
<text class="n" x="56.45" y="363.10" font-size="6.6" text-anchor="middle" fill="#222" font-family='"Liberation Sans", sans-serif' font-weight="normal" >H<tspan font-size="4.0" dy="2.0">2</tspan><tspan dy="-2.0"></tspan></text>
<line x1="100.14" y1="352.90" x2="100.14" y2="355.90" stroke="#5a5a5a" stroke-width="1.0" />
<text class="n" x="100.14" y="363.10" font-size="6.6" text-anchor="middle" fill="#222" font-family='"Liberation Sans", sans-serif' font-weight="normal" >CO</text>
<line x1="143.83" y1="352.90" x2="143.83" y2="355.90" stroke="#5a5a5a" stroke-width="1.0" />
<text class="n" x="143.83" y="363.10" font-size="6.6" text-anchor="middle" fill="#222" font-family='"Liberation Sans", sans-serif' font-weight="normal" >CH<tspan font-size="4.0" dy="2.0">2</tspan><tspan dy="-2.0">CH<tspan font-size="4.0" dy="2.0">2</tspan><tspan dy="-2.0"></tspan></tspan></text>
<line x1="187.52" y1="352.90" x2="187.52" y2="355.90" stroke="#5a5a5a" stroke-width="1.0" />
<text class="n" x="187.52" y="363.10" font-size="6.6" text-anchor="middle" fill="#222" font-family='"Liberation Sans", sans-serif' font-weight="normal" >CH<tspan font-size="4.0" dy="2.0">4</tspan><tspan dy="-2.0"></tspan></text>
<line x1="231.21" y1="352.90" x2="231.21" y2="355.90" stroke="#5a5a5a" stroke-width="1.0" />
<text class="n" x="231.21" y="363.10" font-size="6.6" text-anchor="middle" fill="#222" font-family='"Liberation Sans", sans-serif' font-weight="normal" >HCOOH</text>
<line x1="78.30" y1="352.90" x2="78.30" y2="354.70" stroke="#5a5a5a" stroke-width="1.0" />
<line x1="121.99" y1="352.90" x2="121.99" y2="354.70" stroke="#5a5a5a" stroke-width="1.0" />
<line x1="165.68" y1="352.90" x2="165.68" y2="354.70" stroke="#5a5a5a" stroke-width="1.0" />
<line x1="209.37" y1="352.90" x2="209.37" y2="354.70" stroke="#5a5a5a" stroke-width="1.0" />
<text class="n" x="143.50" y="375.90" font-size="7.9" text-anchor="middle" fill="#222" font-family='"Liberation Sans", sans-serif' font-weight="normal" >Products</text>
<text class="n" x="0.00" y="0.00" font-size="7.9" text-anchor="middle" fill="#222" font-family='"Liberation Sans", sans-serif' font-weight="normal" transform="translate(15.3,278) rotate(-90)">Production (&#181;mol)</text>
<rect x="178.80" y="229.00" width="68.70" height="44.40" fill="#fff" stroke="#9a9a9a" stroke-width="0.8" />
<rect x="183.00" y="231.10" width="12.40" height="5.60" fill="#000000" stroke="#333" stroke-width="0.4" />
<text class="n" x="197.30" y="236.00" font-size="5.8" text-anchor="start" fill="#222" font-family='"Liberation Sans", sans-serif' font-weight="normal"  textLength="13.0" lengthAdjust="spacingAndGlyphs">RGO</text>
<rect x="183.00" y="238.20" width="12.40" height="5.60" fill="#800000" stroke="#333" stroke-width="0.4" />
<text class="n" x="197.30" y="243.10" font-size="5.8" text-anchor="start" fill="#222" font-family='"Liberation Sans", sans-serif' font-weight="normal"  textLength="47.8" lengthAdjust="spacingAndGlyphs">CU Cu<tspan font-size="4.0" dy="2.0">2</tspan><tspan dy="-2.0">O/RGO 1:2</tspan></text>
<rect x="183.00" y="247.20" width="12.40" height="5.60" fill="#800080" stroke="#333" stroke-width="0.4" />
<text class="n" x="197.30" y="252.10" font-size="5.8" text-anchor="start" fill="#222" font-family='"Liberation Sans", sans-serif' font-weight="normal"  textLength="47.8" lengthAdjust="spacingAndGlyphs">CU Cu<tspan font-size="4.0" dy="2.0">2</tspan><tspan dy="-2.0">O/RGO 1:1</tspan></text>
<rect x="183.00" y="256.10" width="12.40" height="5.60" fill="#ff0000" stroke="#333" stroke-width="0.4" />
<text class="n" x="197.30" y="261.00" font-size="5.8" text-anchor="start" fill="#222" font-family='"Liberation Sans", sans-serif' font-weight="normal"  textLength="47.8" lengthAdjust="spacingAndGlyphs">CU Cu<tspan font-size="4.0" dy="2.0">2</tspan><tspan dy="-2.0">O/RGO 2:1</tspan></text>
<rect x="183.00" y="264.90" width="12.40" height="5.60" fill="#ff8000" stroke="#333" stroke-width="0.4" />
<text class="n" x="197.30" y="269.80" font-size="5.8" text-anchor="start" fill="#222" font-family='"Liberation Sans", sans-serif' font-weight="normal"  textLength="13.2" lengthAdjust="spacingAndGlyphs">Cu<tspan font-size="4.0" dy="2.0">2</tspan><tspan dy="-2.0">O</tspan></text>
<text x="256.30" y="211.00" font-size="19.5" text-anchor="start" fill="#000" font-family='"Liberation Serif", serif' font-weight="bold" >(c)</text>
<polyline points="312.30,341.80 361.60,342.30 411.20,339.60 461.40,337.90 512.90,336.30" fill="none" stroke="#555" stroke-width="0.8" stroke-linejoin="round" stroke-linecap="round" />
<polyline points="312.30,299.00 361.80,302.00 411.40,304.10 461.60,305.80 509.80,306.40" fill="none" stroke="#c05050" stroke-width="0.8" stroke-linejoin="round" stroke-linecap="round" />
<polyline points="312.30,292.70 361.80,289.80 411.40,288.20 461.60,287.20 509.80,286.60" fill="none" stroke="#c070d8" stroke-width="0.8" stroke-linejoin="round" stroke-linecap="round" />
<polyline points="313.30,225.80 362.20,204.70 411.40,200.70 461.10,202.90 510.90,201.40" fill="none" stroke="#ff6060" stroke-width="0.8" stroke-linejoin="round" stroke-linecap="round" />
<polyline points="312.00,235.00 360.70,231.70 410.00,213.80 459.70,209.00 513.10,204.00" fill="none" stroke="#ffaa55" stroke-width="0.8" stroke-linejoin="round" stroke-linecap="round" />
<rect x="310.35" y="339.85" width="3.90" height="3.90" fill="#000000" stroke="none" stroke-width="0" />
<rect x="359.65" y="340.35" width="3.90" height="3.90" fill="#000000" stroke="none" stroke-width="0" />
<rect x="409.25" y="337.65" width="3.90" height="3.90" fill="#000000" stroke="none" stroke-width="0" />
<rect x="459.45" y="335.95" width="3.90" height="3.90" fill="#000000" stroke="none" stroke-width="0" />
<rect x="510.95" y="334.35" width="3.90" height="3.90" fill="#000000" stroke="none" stroke-width="0" />
<circle cx="312.30" cy="299.00" r="2.21" fill="#8b0000"/>
<circle cx="361.80" cy="302.00" r="2.21" fill="#8b0000"/>
<circle cx="411.40" cy="304.10" r="2.21" fill="#8b0000"/>
<circle cx="461.60" cy="305.80" r="2.21" fill="#8b0000"/>
<circle cx="509.80" cy="306.40" r="2.21" fill="#8b0000"/>
<polygon points="312.30,289.88 315.12,294.93 309.48,294.93" fill="#800080"/>
<polygon points="361.80,286.98 364.62,292.03 358.98,292.03" fill="#800080"/>
<polygon points="411.40,285.38 414.22,290.43 408.58,290.43" fill="#800080"/>
<polygon points="461.60,284.38 464.42,289.43 458.78,289.43" fill="#800080"/>
<polygon points="509.80,283.78 512.62,288.83 506.98,288.83" fill="#800080"/>
<polygon points="313.30,228.62 316.12,223.57 310.48,223.57" fill="#ff0000"/>
<polygon points="362.20,207.52 365.02,202.47 359.38,202.47" fill="#ff0000"/>
<polygon points="411.40,203.52 414.22,198.47 408.58,198.47" fill="#ff0000"/>
<polygon points="461.10,205.72 463.92,200.67 458.28,200.67" fill="#ff0000"/>
<polygon points="510.90,204.22 513.72,199.17 508.08,199.17" fill="#ff0000"/>
<polygon points="312.00,232.21 314.80,235.00 312.00,237.79 309.20,235.00" fill="#ff8000"/>
<polygon points="360.70,228.91 363.50,231.70 360.70,234.49 357.90,231.70" fill="#ff8000"/>
<polygon points="410.00,211.01 412.80,213.80 410.00,216.59 407.20,213.80" fill="#ff8000"/>
<polygon points="459.70,206.21 462.50,209.00 459.70,211.79 456.90,209.00" fill="#ff8000"/>
<polygon points="513.10,201.21 515.89,204.00 513.10,206.79 510.31,204.00" fill="#ff8000"/>
<rect x="302.20" y="192.80" width="217.50" height="160.20" fill="none" stroke="#5a5a5a" stroke-width="1.0"/>
<line x1="298.80" y1="344.60" x2="302.20" y2="344.60" stroke="#5a5a5a" stroke-width="1.0" />
<text class="n" x="297.20" y="346.30" font-size="6.4" text-anchor="end" fill="#222" font-family='"Liberation Sans", sans-serif' font-weight="normal" >0.0</text>
<line x1="298.80" y1="314.24" x2="302.20" y2="314.24" stroke="#5a5a5a" stroke-width="1.0" />
<text class="n" x="297.20" y="315.94" font-size="6.4" text-anchor="end" fill="#222" font-family='"Liberation Sans", sans-serif' font-weight="normal" >0.1</text>
<line x1="298.80" y1="283.88" x2="302.20" y2="283.88" stroke="#5a5a5a" stroke-width="1.0" />
<text class="n" x="297.20" y="285.58" font-size="6.4" text-anchor="end" fill="#222" font-family='"Liberation Sans", sans-serif' font-weight="normal" >0.2</text>
<line x1="298.80" y1="253.52" x2="302.20" y2="253.52" stroke="#5a5a5a" stroke-width="1.0" />
<text class="n" x="297.20" y="255.22" font-size="6.4" text-anchor="end" fill="#222" font-family='"Liberation Sans", sans-serif' font-weight="normal" >0.3</text>
<line x1="298.80" y1="223.16" x2="302.20" y2="223.16" stroke="#5a5a5a" stroke-width="1.0" />
<text class="n" x="297.20" y="224.86" font-size="6.4" text-anchor="end" fill="#222" font-family='"Liberation Sans", sans-serif' font-weight="normal" >0.4</text>
<line x1="298.80" y1="192.80" x2="302.20" y2="192.80" stroke="#5a5a5a" stroke-width="1.0" />
<text class="n" x="297.20" y="194.50" font-size="6.4" text-anchor="end" fill="#222" font-family='"Liberation Sans", sans-serif' font-weight="normal" >0.5</text>
<line x1="300.20" y1="329.42" x2="302.20" y2="329.42" stroke="#5a5a5a" stroke-width="1.0" />
<line x1="300.20" y1="299.06" x2="302.20" y2="299.06" stroke="#5a5a5a" stroke-width="1.0" />
<line x1="300.20" y1="268.70" x2="302.20" y2="268.70" stroke="#5a5a5a" stroke-width="1.0" />
<line x1="300.20" y1="238.34" x2="302.20" y2="238.34" stroke="#5a5a5a" stroke-width="1.0" />
<line x1="300.20" y1="207.98" x2="302.20" y2="207.98" stroke="#5a5a5a" stroke-width="1.0" />
<line x1="304.85" y1="353.00" x2="304.85" y2="356.40" stroke="#5a5a5a" stroke-width="1.0" />
<text class="n" x="304.85" y="363.00" font-size="6.4" text-anchor="middle" fill="#222" font-family='"Liberation Sans", sans-serif' font-weight="normal" >0</text>
<line x1="337.87" y1="353.00" x2="337.87" y2="356.40" stroke="#5a5a5a" stroke-width="1.0" />
<text class="n" x="337.87" y="363.00" font-size="6.4" text-anchor="middle" fill="#222" font-family='"Liberation Sans", sans-serif' font-weight="normal" >20</text>
<line x1="370.89" y1="353.00" x2="370.89" y2="356.40" stroke="#5a5a5a" stroke-width="1.0" />
<text class="n" x="370.89" y="363.00" font-size="6.4" text-anchor="middle" fill="#222" font-family='"Liberation Sans", sans-serif' font-weight="normal" >40</text>
<line x1="403.91" y1="353.00" x2="403.91" y2="356.40" stroke="#5a5a5a" stroke-width="1.0" />
<text class="n" x="403.91" y="363.00" font-size="6.4" text-anchor="middle" fill="#222" font-family='"Liberation Sans", sans-serif' font-weight="normal" >60</text>
<line x1="436.93" y1="353.00" x2="436.93" y2="356.40" stroke="#5a5a5a" stroke-width="1.0" />
<text class="n" x="436.93" y="363.00" font-size="6.4" text-anchor="middle" fill="#222" font-family='"Liberation Sans", sans-serif' font-weight="normal" >80</text>
<line x1="469.95" y1="353.00" x2="469.95" y2="356.40" stroke="#5a5a5a" stroke-width="1.0" />
<text class="n" x="469.95" y="363.00" font-size="6.4" text-anchor="middle" fill="#222" font-family='"Liberation Sans", sans-serif' font-weight="normal" >100</text>
<line x1="502.97" y1="353.00" x2="502.97" y2="356.40" stroke="#5a5a5a" stroke-width="1.0" />
<text class="n" x="502.97" y="363.00" font-size="6.4" text-anchor="middle" fill="#222" font-family='"Liberation Sans", sans-serif' font-weight="normal" >120</text>
<line x1="321.36" y1="353.00" x2="321.36" y2="355.00" stroke="#5a5a5a" stroke-width="1.0" />
<line x1="354.38" y1="353.00" x2="354.38" y2="355.00" stroke="#5a5a5a" stroke-width="1.0" />
<line x1="387.40" y1="353.00" x2="387.40" y2="355.00" stroke="#5a5a5a" stroke-width="1.0" />
<line x1="420.42" y1="353.00" x2="420.42" y2="355.00" stroke="#5a5a5a" stroke-width="1.0" />
<line x1="453.44" y1="353.00" x2="453.44" y2="355.00" stroke="#5a5a5a" stroke-width="1.0" />
<line x1="486.46" y1="353.00" x2="486.46" y2="355.00" stroke="#5a5a5a" stroke-width="1.0" />
<line x1="519.48" y1="353.00" x2="519.48" y2="355.00" stroke="#5a5a5a" stroke-width="1.0" />
<text class="n" x="411.00" y="375.40" font-size="7.9" text-anchor="middle" fill="#222" font-family='"Liberation Sans", sans-serif' font-weight="normal" >Time (min)</text>
<text class="n" x="0.00" y="0.00" font-size="7.9" text-anchor="middle" fill="#222" font-family='"Liberation Sans", sans-serif' font-weight="normal" transform="translate(280.6,277.3) rotate(-90)">CO/products</text>
<rect x="450.20" y="229.70" width="66.40" height="41.50" fill="#fff" stroke="#9a9a9a" stroke-width="0.8" />
<line x1="455.60" y1="235.00" x2="465.40" y2="235.00" stroke="#555" stroke-width="0.8" />
<rect x="458.40" y="232.90" width="4.20" height="4.20" fill="#000000" stroke="none" stroke-width="0" />
<text class="n" x="469.00" y="237.10" font-size="6.1" text-anchor="start" fill="#222" font-family='"Liberation Sans", sans-serif' font-weight="normal"  textLength="12.0" lengthAdjust="spacingAndGlyphs">RGO</text>
<line x1="455.60" y1="242.50" x2="465.40" y2="242.50" stroke="#c05050" stroke-width="0.8" />
<circle cx="460.50" cy="242.50" r="2.21" fill="#8b0000"/>
<text class="n" x="469.00" y="244.60" font-size="6.1" text-anchor="start" fill="#222" font-family='"Liberation Sans", sans-serif' font-weight="normal"  textLength="45.0" lengthAdjust="spacingAndGlyphs">CU Cu<tspan font-size="4.0" dy="2.0">2</tspan><tspan dy="-2.0">O/RGO 1:2</tspan></text>
<line x1="455.60" y1="250.40" x2="465.40" y2="250.40" stroke="#c070d8" stroke-width="0.8" />
<polygon points="460.50,247.88 463.02,252.40 457.98,252.40" fill="#800080"/>
<text class="n" x="469.00" y="252.50" font-size="6.1" text-anchor="start" fill="#222" font-family='"Liberation Sans", sans-serif' font-weight="normal"  textLength="45.0" lengthAdjust="spacingAndGlyphs">CU Cu<tspan font-size="4.0" dy="2.0">2</tspan><tspan dy="-2.0">O/RGO 1:1</tspan></text>
<line x1="455.60" y1="258.30" x2="465.40" y2="258.30" stroke="#ff6060" stroke-width="0.8" />
<polygon points="460.50,260.82 463.02,256.31 457.98,256.31" fill="#ff0000"/>
<text class="n" x="469.00" y="260.40" font-size="6.1" text-anchor="start" fill="#222" font-family='"Liberation Sans", sans-serif' font-weight="normal"  textLength="45.0" lengthAdjust="spacingAndGlyphs">CU Cu<tspan font-size="4.0" dy="2.0">2</tspan><tspan dy="-2.0">O/RGO 2:1</tspan></text>
<line x1="455.60" y1="266.60" x2="465.40" y2="266.60" stroke="#ffaa55" stroke-width="0.8" />
<polygon points="460.50,263.87 463.23,266.60 460.50,269.33 457.77,266.60" fill="#ff8000"/>
<text class="n" x="469.00" y="268.70" font-size="6.1" text-anchor="start" fill="#222" font-family='"Liberation Sans", sans-serif' font-weight="normal"  textLength="12.5" lengthAdjust="spacingAndGlyphs">Cu<tspan font-size="4.0" dy="2.0">2</tspan><tspan dy="-2.0">O</tspan></text>
<text x="521.20" y="211.00" font-size="20" text-anchor="start" fill="#000" font-family='"Liberation Serif", serif' font-weight="bold" >(d)</text>
</svg>
</body></html>
